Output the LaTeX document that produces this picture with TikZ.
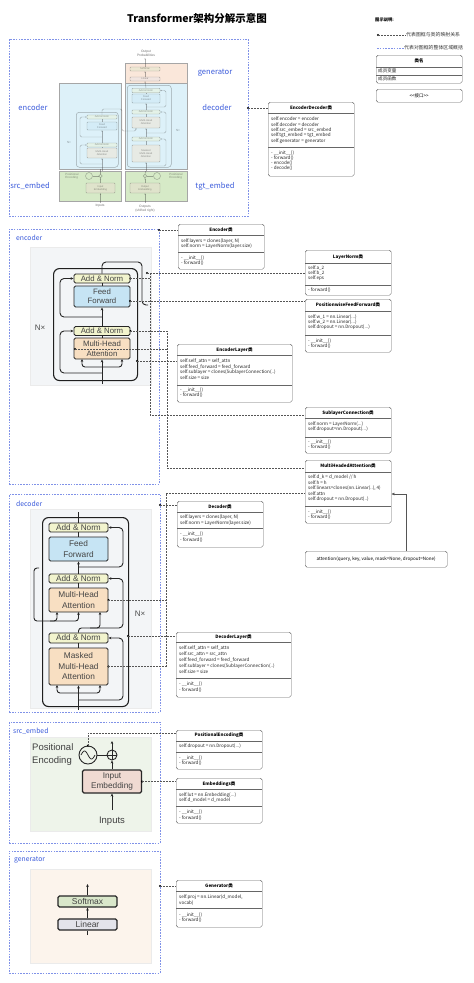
\documentclass[tikz,border=0pt]{standalone}
\usepackage{fontspec}
\setmainfont{Noto Sans CJK SC}
\newfontfamily\dfont{Liberation Sans}
\usetikzlibrary{arrows.meta}
\definecolor{bdash}{HTML}{8092E8}
\definecolor{blab}{HTML}{3B5BDB}
\definecolor{gline}{HTML}{555555}
\definecolor{anc}{HTML}{F2F4CE}
\definecolor{ffc}{HTML}{C6E4F4}
\definecolor{mhc}{HTML}{F8DFC2}
\definecolor{pangray}{HTML}{F3F5F7}
\definecolor{pangreen}{HTML}{EEF4EA}
\definecolor{panpeach}{HTML}{FCF4EC}
\definecolor{iec}{HTML}{F0DAD2}
\definecolor{smc}{HTML}{D9E7CA}
\definecolor{lnc}{HTML}{E3E3EA}
\definecolor{tblue}{HTML}{DDF1F9}
\definecolor{tpeach}{HTML}{FAE7DA}
\definecolor{tgreen}{HTML}{D6EAC7}
\definecolor{dtext}{HTML}{444444}
\newcount\tcnt
\newcommand\cl[3]{\global\advance\tcnt by 1\relax\node[clt] (t\the\tcnt) at (#1,#2) {#3};}
\newcommand\clsbox[9]{%
  \node[cls, anchor=north west, minimum width={#4-#2}, minimum height={#5-#3}] (#1) at (#2,#3) {};
  \node[clh] (#1-h) at ({(#2+#4)/2},#6) {#9};
  \draw[clsep] (#2,#7) -- (#4,#7);
  \draw[clsep] (#2,#8) -- (#4,#8);
}
\begin{document}
\begin{tikzpicture}[x=1pt,y=-1pt,
  cls/.style={draw=gline!90, line width=0.45pt, rounded corners=1.8pt, fill=white, inner sep=0pt},
  clt/.style={anchor=west, inner sep=0pt, font=\fontsize{4.55}{5}\selectfont, text=black!85},
  clh/.style={inner sep=0pt, font=\fontsize{4.5}{5}\selectfont\bfseries, text=black},
  clsep/.style={draw=gline!90, line width=0.45pt},
  mapl/.style={draw=gline, line width=0.5pt, dash pattern=on 1.8pt off 1.2pt},
  bbox/.style={draw=bdash, line width=0.55pt, dash pattern=on 1.6pt off 1.2pt, inner sep=0pt},
  seclab/.style={anchor=west, inner sep=0pt, text=blab, font=\fontsize{6.8}{8}\selectfont},
  toplab/.style={inner sep=0pt, text=blab, font=\fontsize{7.6}{9}\selectfont},
  panel/.style={draw=black!8, line width=0.3pt, inner sep=0pt, anchor=north west},
  blk/.style={draw=black!85, line width=0.9pt, rounded corners=1.5pt, inner sep=0pt, font=\dfont\fontsize{7.8}{9}\selectfont, text=dtext, align=center},
  orr/.style={draw=black!88, line width=1.1pt, rounded corners=6pt, inner sep=0pt, anchor=north west},
  wire/.style={draw=black!85, line width=0.9pt},
  arr/.style={wire, -{Stealth[length=3pt,width=2.6pt]}},
  tpan/.style={draw=black!35, line width=0.5pt, inner sep=0pt, anchor=north west}
]
\useasboundingbox[fill=white] (0,0) rectangle (474,983);

% ---------------- title & legend
\node[font=\fontsize{10.5}{12}\selectfont\bfseries] (title) at (197,18) {Transformer架构分解示意图};
\node[anchor=west, inner sep=0pt, font=\fontsize{4.3}{5}\selectfont\bfseries] (lgt) at (375,20) {图示说明:};
\coordinate (lg1a) at (378,35); \coordinate (lg1b) at (406,35);
\fill (lg1a) circle (1.2pt);
\draw[mapl] (lg1a) -- (lg1b);
\node[anchor=west, inner sep=0pt, font=\fontsize{4.9}{5}\selectfont, text=black!80] (lg1) at (lg1b) {代表图框与类的映射关系};
\coordinate (lg2a) at (377,48); \coordinate (lg2b) at (404,48);
\draw[bbox] (lg2a) -- (lg2b);
\node[anchor=west, inner sep=0pt, font=\fontsize{4.9}{5}\selectfont, text=black!80] (lg2) at (lg2b) {代表对图框的整体区域概括};
\node[cls, anchor=north west, minimum width=86, minimum height=28] (lgc) at (376,55) {};
\node[clh] (lgch) at (419,61) {类名};
\draw[clsep] (376,67) -- (462,67);
\draw[clsep] (376,75) -- (462,75);
\cl{378}{71}{成员变量}
\cl{378}{79}{成员函数}
\node[cls, anchor=north west, minimum width=86, minimum height=13, font=\fontsize{4.5}{5}\selectfont] (lgi) at (376,89) {<{}<接口>{}>};

% ---------------- class boxes
\clsbox{cED}{268}{102}{354}{176}{108}{113}{147}{EncoderDecoder类}
\cl{271}{119}{self.encoder = encoder}
\cl{271}{124.5}{self.decoder = decoder}
\cl{271}{130}{self.src\_embed = src\_embed}
\cl{271}{135.5}{self.tgt\_embed = tgt\_embed}
\cl{271}{141}{self.generator = generator}
\cl{271}{153}{- \_\_init\_\_()}
\cl{271}{158}{- forward()}
\cl{271}{163}{- encode()}
\cl{271}{168}{- decode()}

\clsbox{cEnc}{178}{224}{264}{269}{230}{235}{252}{Encoder类}
\cl{181}{241}{self.layers = clones(layer, N)}
\cl{181}{246}{self.norm = LayerNorm(layer.size)}
\cl{181}{258}{- \_\_init\_\_()}
\cl{181}{263}{- forward()}

\clsbox{cLN}{305}{250}{391}{295}{257}{263}{285}{LayerNorm类}
\cl{308}{268}{self.a\_2}
\cl{308}{273}{self.b\_2}
\cl{308}{278}{self.eps}
\cl{308}{290}{- forward()}

\clsbox{cPFF}{305}{299}{391}{352}{305}{311}{335}{PositionwiseFeedForward类}
\cl{308}{317}{self.w\_1 = nn.Linear(...)}
\cl{308}{322}{self.w\_2 = nn.Linear(...)}
\cl{308}{327}{self.dropout = nn.Dropout(...)}
\cl{308}{341}{- \_\_init\_\_()}
\cl{308}{346}{- forward()}

\clsbox{cEL}{177}{344}{292}{402}{350}{355}{385}{EncoderLayer类}
\cl{180}{361}{self.self\_attn = self\_attn}
\cl{180}{366.5}{self.feed\_forward = feed\_forward}
\cl{180}{372}{self.sublayer = clones(SublayerConnection(..)}
\cl{180}{378}{self.size = size}
\cl{180}{390}{- \_\_init\_\_()}
\cl{180}{395}{- forward()}

\clsbox{cSC}{305}{407}{391}{453}{413}{418}{437}{SublayerConnection类}
\cl{308}{424}{self.norm = LayerNorm(...)}
\cl{308}{429}{self.dropout=nn.Dropout(...)}
\cl{308}{442}{- \_\_init\_\_()}
\cl{308}{447}{- forward()}

\clsbox{cMHA}{305}{460}{391}{523}{466}{472}{506}{MultiHeadedAttention类}
\cl{308}{477}{self.d\_k = d\_model // h}
\cl{308}{482.5}{self.h = h}
\cl{308}{488}{self.linears=clones(nn.Linear(..), 4)}
\cl{308}{493.5}{self.attn}
\cl{308}{499}{self.dropout = nn.Dropout(..)}
\cl{308}{512}{- \_\_init\_\_()}
\cl{308}{517.5}{- forward()}

\node[cls, anchor=north west, minimum width=142, minimum height=16, font=\fontsize{4.55}{5}\selectfont] (cAtt) at (305,551) {attention(query, key, value, mask=None, dropout=None)};
\coordinate (a1) at (406,494);
\draw[draw=gline, line width=0.55pt, -{Triangle[length=3pt,width=2.6pt]}] (cAtt.north -| a1) -- (a1) -- (cMHA.east |- a1);

\clsbox{cDec}{177}{501}{263}{547}{507}{512}{528}{Decoder类}
\cl{180}{517.5}{self.layers = clones(layer, N)}
\cl{180}{523}{self.norm = LayerNorm(layer.size)}
\cl{180}{534}{- \_\_init\_\_()}
\cl{180}{540}{- forward()}

\clsbox{cDL}{176}{632}{291}{697}{637}{642}{678}{DecoderLayer类}
\cl{179}{648}{self.self\_attn = self\_attn}
\cl{179}{654}{self.src\_attn = src\_attn}
\cl{179}{660}{self.feed\_forward = feed\_forward}
\cl{179}{666}{self.sublayer = clones(SublayerConnection(..)}
\cl{179}{672}{self.size = size}
\cl{179}{684}{- \_\_init\_\_()}
\cl{179}{690}{- forward()}

\clsbox{cPE}{176}{730}{262}{769}{735.5}{741}{752}{PositionalEncoding类}
\cl{179}{746.5}{self.dropout = nn.Dropout(...)}
\cl{179}{758}{- \_\_init\_\_()}
\cl{179}{763}{- forward()}

\clsbox{cEmb}{176}{778}{262}{823}{784}{789}{806}{Embeddings类}
\cl{179}{795}{self.lut = nn.Embedding(...)}
\cl{179}{800}{self.d\_model = d\_model}
\cl{179}{812}{- \_\_init\_\_()}
\cl{179}{818}{- forward()}

\clsbox{cGen}{176}{880}{262}{927}{886}{891}{908}{Generator类}
\cl{179}{897}{self.proj = nn.Linear(d\_model,}
\cl{179}{903}{vocab)}
\cl{179}{915}{- \_\_init\_\_()}
\cl{179}{920}{- forward()}

% ---------------- top overview
\node[bbox, anchor=north west, minimum width=239, minimum height=177] (topbox) at (9,39) {};
\node[toplab] (tl1) at (33,108) {encoder};
\node[toplab] (tl2) at (217,108) {decoder};
\node[toplab] (tl3) at (215,73) {generator};
\node[toplab] (tl4) at (30,186) {src\_embed};
\node[toplab] (tl5) at (215,186) {tgt\_embed};
\node[tpan, fill=tpeach, minimum width=62, minimum height=20] (tgen) at (125,63) {};
\node[tpan, fill=tblue, minimum width=62, minimum height=86] (tenc) at (59,83) {};
\node[tpan, fill=tblue, minimum width=62, minimum height=86] (tdec) at (125,83) {};
\node[tpan, fill=tgreen, minimum width=62, minimum height=30] (tsrc) at (59,171) {};
\node[tpan, fill=tgreen, minimum width=62, minimum height=30] (ttgt) at (125,171) {};
\node[align=center, font=\dfont\fontsize{3.3}{3.8}\selectfont, text=black!55, inner sep=0pt] (tout) at (146,53) {Output\\Probabilities};
\node[font=\dfont\fontsize{3.3}{3.8}\selectfont, text=black!55, inner sep=0pt] (tinp) at (100,206) {Inputs};
\node[align=center, font=\dfont\fontsize{3.3}{3.8}\selectfont, text=black!55, inner sep=0pt] (toutp) at (145,209) {Outputs\\(shifted right)};
\begin{scope}[opacity=0.38,
  tb/.style={draw=black!80, line width=0.45pt, rounded corners=0.8pt, inner sep=0pt, font=\dfont\fontsize{2.6}{3}\selectfont, align=center},
  tw/.style={draw=black!80, line width=0.45pt},
  ta/.style={tw, -{Stealth[length=1.4pt,width=1.2pt]}}]
  % encoder
  \node[draw=black!80, line width=0.5pt, rounded corners=3pt, minimum width=42, minimum height=55, inner sep=0pt, anchor=north west] (teo) at (76,112) {};
  \node[tb, fill=anc, minimum width=30, minimum height=4] (tea2) at (102,117) {Add \& Norm};
  \node[tb, fill=ffc, minimum width=30, minimum height=8] (tef) at (102,126) {Feed\\Forward};
  \node[tb, fill=anc, minimum width=30, minimum height=4] (tea1) at (102,145) {Add \& Norm};
  \node[tb, fill=mhc, minimum width=30, minimum height=10] (tem) at (102,153) {Multi-Head\\Attention};
  \coordinate (tein) at (102,171);
  \draw[ta] (tein) -- (tem.south);
  \draw[tw] (tem.north) -- (tea1.south);
  \draw[ta] (tea1.north) -- (tef.south);
  \draw[tw] (tef.north) -- (tea2.south);
  \draw[ta, rounded corners=1.5pt] (102,164) -- (80,164) -- (80,145) -- (tea1.west);
  \draw[ta, rounded corners=1.5pt] (102,137) -- (80,137) -- (80,117) -- (tea2.west);
  \node[font=\dfont\fontsize{3}{3}\selectfont, inner sep=0pt] (tnx1) at (69,142) {N×};
  % decoder
  \node[draw=black!80, line width=0.5pt, rounded corners=3pt, minimum width=44, minimum height=82, inner sep=0pt, anchor=north west] (tdo) at (127,85) {};
  \node[tb, fill=anc, minimum width=28, minimum height=4.5] (tda3) at (146,90.5) {Add \& Norm};
  \node[tb, fill=ffc, minimum width=28, minimum height=9] (tdf) at (146,98.5) {Feed\\Forward};
  \node[tb, fill=anc, minimum width=28, minimum height=4] (tda2) at (146,112) {Add \& Norm};
  \node[tb, fill=mhc, minimum width=28, minimum height=11] (tdm) at (146,122.5) {Multi-Head\\Attention};
  \node[tb, fill=anc, minimum width=28, minimum height=4] (tda1) at (146,139) {Add \& Norm};
  \node[tb, fill=mhc, minimum width=28, minimum height=17] (tdmm) at (146,153.5) {Masked\\Multi-Head\\Attention};
  \coordinate (tdin) at (146,171);
  \draw[ta] (tdin) -- (tdmm.south);
  \draw[tw] (tdmm.north) -- (tda1.south);
  \draw[ta] (tda1.north) -- (tdm.south);
  \draw[tw] (tdm.north) -- (tda2.south);
  \draw[ta] (tda2.north) -- (tdf.south);
  \draw[tw] (tdf.north) -- (tda3.south);
  \draw[ta, rounded corners=1.5pt] (146,166) -- (166,166) -- (166,139) -- (tda1.east);
  \draw[ta, rounded corners=1.5pt] (146,133) -- (166,133) -- (166,112) -- (tda2.east);
  \draw[ta, rounded corners=1.5pt] (146,107) -- (166,107) -- (166,90.5) -- (tda3.east);
  \draw[ta, rounded corners=1.5pt] (tea2.north) -- (102,109) -- (122,109) -- (122,131) -- (136,131) -- (136,128);
  \node[font=\dfont\fontsize{3}{3}\selectfont, inner sep=0pt] (tnx2) at (178,130) {N×};
  % generator
  \node[tb, fill=smc, minimum width=30, minimum height=4] (tgs) at (145,69) {Softmax};
  \node[tb, fill=lnc, minimum width=30, minimum height=4] (tgl) at (145,79) {Linear};
  \draw[ta] (tda3.north) -- (tgl.south);
  \draw[ta] (tgl.north) -- (tgs.south);
  \coordinate (tgo) at (145,58);
  \draw[ta] (tgs.north) -- (tgo);
  % embeddings
  \node[tb, fill=iec, minimum width=29, minimum height=10] (tie) at (100.5,188) {Input\\Embedding};
  \node[circle, draw=black!80, line width=0.45pt, minimum size=7, inner sep=0pt] (tsin1) at (89,176) {};
  \node[circle, draw=black!80, line width=0.45pt, minimum size=3.5, inner sep=0pt] (tpl1) at (100.5,176) {};
  \draw[tw] (tsin1.east) -- (tpl1.west);
  \draw[ta] (tie.north) -- (tpl1.south);
  \draw[ta] (tpl1.north) -- (100.5,169);
  \draw[ta] (100.5,203) -- (tie.south);
  \node[align=left, font=\dfont\fontsize{3}{3.5}\selectfont, inner sep=0pt] (tpe1) at (72,176) {Positional\\Encoding};
  \node[tb, fill=iec, minimum width=30, minimum height=10] (toe) at (145,188) {Output\\Embedding};
  \node[circle, draw=black!80, line width=0.45pt, minimum size=7, inner sep=0pt] (tsin2) at (157,176) {};
  \node[circle, draw=black!80, line width=0.45pt, minimum size=3.5, inner sep=0pt] (tpl2) at (145,176) {};
  \draw[tw] (tsin2.west) -- (tpl2.east);
  \draw[ta] (toe.north) -- (tpl2.south);
  \draw[ta] (tpl2.north) -- (tdin);
  \draw[ta] (145,203) -- (toe.south);
  \node[align=left, font=\dfont\fontsize{3}{3.5}\selectfont, inner sep=0pt] (tpe2) at (176,176) {Positional\\Encoding};
\end{scope}
\coordinate (m1) at (248,108);
\fill (m1) circle (1.2pt);
\draw[mapl] (m1) -- (cED.west |- m1);

% ---------------- encoder section
\node[bbox, anchor=north west, minimum width=150, minimum height=255] (encsec) at (9,229) {};
\node[seclab] (encl) at (16,238) {encoder};
\node[panel, fill=pangray, minimum width=121, minimum height=138] (encpan) at (30,247) {};
\node[orr, minimum width=84, minimum height=112] (eout) at (53,268) {};
\node[blk, fill=anc, minimum width=56, minimum height=9] (eAN2) at (102,278.5) {Add \& Norm};
\node[blk, fill=ffc, minimum width=56, minimum height=21, font=\dfont\fontsize{7.8}{9.4}\selectfont] (eFF) at (102,296.5) {Feed\\Forward};
\node[blk, fill=anc, minimum width=56, minimum height=9] (eAN1) at (102,331) {Add \& Norm};
\node[blk, fill=mhc, minimum width=56, minimum height=21, font=\dfont\fontsize{7.8}{10.5}\selectfont] (eMHA) at (102,348.5) {Multi-Head\\Attention};
\node[font=\dfont\fontsize{8}{9}\selectfont, text=black!70, inner sep=0pt] (eNx) at (40,328) {N×};
\coordinate (ein) at (102,384);
\draw[wire] (ein) -- (102,367);
\draw[arr] (102,367) -- (eMHA.south);
\draw[arr, rounded corners=3pt] (102,367) -- (82,367) -- (82,359);
\draw[arr, rounded corners=3pt] (102,367) -- (122,367) -- (122,359);
\draw[arr, rounded corners=4pt] (102,373) -- (60,373) -- (60,331) -- (eAN1.west);
\draw[wire] (eMHA.north) -- (eAN1.south);
\draw[arr] (eAN1.north) -- (eFF.south);
\draw[arr, rounded corners=4pt] (102,317) -- (60,317) -- (60,278.5) -- (eAN2.west);
\draw[wire] (eFF.north) -- (eAN2.south);
\draw[wire, rounded corners=4pt] (eAN2.north) -- (102,262) -- (142,262) -- (142,305) -- (148,305);

\coordinate (m2) at (159,230);
\fill (m2) circle (1.2pt);
\draw[mapl] (m2) -- (cEnc.west |- m2);
\coordinate (m3) at (147,273);
\fill (m3) circle (1.2pt);
\draw[mapl] (m3) -- (cLN.west |- m3);
\coordinate (m4a) at (150,273); \coordinate (m4c) at (150,278.5); \coordinate (m4b) at (150,415);
\fill (eAN2.east) circle (1.1pt);
\draw[mapl] (eAN2.east) -- (m4c);
\draw[mapl] (m4a) -- (m4b) -- (cSC.west |- m4b);
\coordinate (m5a) at (167,331); \coordinate (m5b) at (167,468);
\fill (eAN1.east) circle (1.1pt);
\draw[mapl] (eAN1.east) -- (m5a) -- (m5b) -- (cMHA.west |- m5b);
\coordinate (m6) at (75,349); \coordinate (m6a) at (167,349);
\fill (m6) circle (1.1pt);
\draw[mapl] (m6) -- (m6a);
\coordinate (m7) at (130,301);
\fill (m7) circle (1.1pt);
\draw[mapl] (m7) -- (cPFF.west |- m7);
\coordinate (m8) at (137,361);
\fill (m8) circle (1.1pt);
\draw[mapl] (m8) -- (cEL.west |- m8);

% ---------------- decoder section
\node[bbox, anchor=north west, minimum width=151, minimum height=218] (decsec) at (9,494) {};
\node[seclab] (decl) at (16,504) {decoder};
\node[panel, fill=pangray, minimum width=121, minimum height=199] (decpan) at (30,509) {};
\node[orr, minimum width=86, minimum height=189] (dout) at (42,517) {};
\node[blk, fill=anc, minimum width=59, minimum height=9, font=\dfont\fontsize{8.2}{9}\selectfont] (dAN3) at (78.5,527.5) {Add \& Norm};
\node[blk, fill=ffc, minimum width=59, minimum height=24, font=\dfont\fontsize{8.3}{10.5}\selectfont] (dFF) at (78.5,549) {Feed\\Forward};
\node[blk, fill=anc, minimum width=59, minimum height=9, font=\dfont\fontsize{8.2}{9}\selectfont] (dAN2) at (78.5,578.5) {Add \& Norm};
\node[blk, fill=mhc, minimum width=59, minimum height=24, font=\dfont\fontsize{8.3}{10.5}\selectfont] (dMHA) at (78.5,600) {Multi-Head\\Attention};
\node[blk, fill=anc, minimum width=59, minimum height=10, font=\dfont\fontsize{8.2}{9}\selectfont] (dAN1) at (78.5,638) {Add \& Norm};
\node[blk, fill=mhc, minimum width=59, minimum height=37, font=\dfont\fontsize{8.3}{10.5}\selectfont] (dMMHA) at (78.5,666.5) {Masked\\Multi-Head\\Attention};
\node[font=\dfont\fontsize{8}{9}\selectfont, text=black!70, inner sep=0pt] (dNx) at (140,614) {N×};
\coordinate (din) at (78.5,710);
\draw[wire] (din) -- (78.5,693);
\draw[arr] (78.5,693) -- (dMMHA.south);
\draw[arr, rounded corners=3pt] (78.5,693) -- (57,693) -- (57,685);
\draw[arr, rounded corners=3pt] (78.5,693) -- (100,693) -- (100,685);
\draw[arr, rounded corners=4pt] (78.5,700) -- (123,700) -- (123,638) -- (dAN1.east);
\draw[wire] (dMMHA.north) -- (dAN1.south);
\draw[arr, rounded corners=3pt] (dAN1.north) -- (78.5,628) -- (100,628) -- (100,612);
\draw[arr, rounded corners=4pt] (90,628) -- (123,628) -- (123,578.5) -- (dAN2.east);
\draw[arr, rounded corners=3pt] (39,568) -- (34,568) -- (34,621) -- (57,621) -- (57,612);
\draw[arr, rounded corners=3pt] (50,621) -- (78.5,621) -- (78.5,612);
\draw[wire] (dMHA.north) -- (dAN2.south);
\draw[arr] (dAN2.north) -- (dFF.south);
\draw[arr, rounded corners=4pt] (78.5,567) -- (123,567) -- (123,527.5) -- (dAN3.east);
\draw[wire] (dFF.north) -- (dAN3.south);
\coordinate (dtop) at (78.5,512);
\draw[wire] (dAN3.north) -- (dtop);

\coordinate (m9) at (160,505);
\fill (m9) circle (1.2pt);
\draw[mapl] (m9) -- (cDec.west |- m9);
\coordinate (m10a) at (166,600); \coordinate (m10b) at (166,493); \coordinate (m11a) at (166,666.5);
\fill (dMHA.east) circle (1.1pt);
\fill (dMMHA.east) circle (1.1pt);
\draw[mapl] (dMHA.east) -- (m10a) -- (m10b) -- (cMHA.west |- m10b);
\draw[mapl] (dMMHA.east) -- (m11a) -- (m10a);
\coordinate (m12) at (128,636);
\fill (m12) circle (1.1pt);
\draw[mapl] (m12) -- (cDL.west |- m12);

% ---------------- src_embed section
\node[bbox, anchor=north west, minimum width=151, minimum height=121] (srcsec) at (9,722) {};
\node[seclab] (srcl) at (13,731) {src\_embed};
\node[panel, fill=pangreen, minimum width=121, minimum height=94] (srcpan) at (30,737) {};
\node[anchor=west, inner sep=0pt, align=left, font=\dfont\fontsize{9.5}{13}\selectfont, text=black!75] (pe) at (32,755) {Positional\\Encoding};
\node[circle, draw=black!85, line width=0.9pt, minimum size=18, inner sep=0pt] (sine) at (88,755) {};
\draw[line width=0.8pt, black!85] plot[domain=-7:7, samples=40, variable=\t] ({88+\t},{755+4*sin(\t*180/7)});
\node[circle, draw=black!85, line width=0.9pt, minimum size=10, inner sep=0pt] (plus) at (112,755) {};
\draw[line width=0.8pt, black!85] (plus.west) -- (plus.east);
\draw[line width=0.8pt, black!85] (plus.north) -- (plus.south);
\draw[wire] (sine.east) -- (plus.west);
\node[blk, fill=iec, minimum width=59, minimum height=23, line width=1.1pt, font=\dfont\fontsize{8.3}{10}\selectfont] (ie) at (112,781.5) {Input\\Embedding};
\draw[arr] (ie.north) -- (plus.south);
\coordinate (pout) at (112,741);
\draw[arr] (plus.north) -- (pout);
\coordinate (iin) at (112,810);
\draw[arr] (iin) -- (ie.south);
\node[font=\dfont\fontsize{9.5}{11}\selectfont, text=black!75, inner sep=0pt] (inp) at (112,821) {Inputs};
\coordinate (m13a) at (88,733);
\fill (sine.north) circle (1.2pt);
\draw[mapl] (sine.north) -- (m13a) -- (cPE.west |- m13a);
\fill (ie.east) circle (1.2pt);
\draw[mapl] (ie.east) -- (cEmb.west |- ie.east);

% ---------------- generator section
\node[bbox, anchor=north west, minimum width=151, minimum height=122] (gensec) at (9,851) {};
\node[seclab] (genl) at (14,860) {generator};
\node[panel, fill=panpeach, minimum width=121, minimum height=94] (genpan) at (30,869) {};
\node[blk, fill=smc, minimum width=59, minimum height=11, line width=1.1pt, font=\dfont\fontsize{8.5}{10}\selectfont] (sm) at (87.5,901.5) {Softmax};
\node[blk, fill=lnc, minimum width=59, minimum height=11, line width=1.1pt, font=\dfont\fontsize{8.5}{10}\selectfont] (lin) at (87.5,924.5) {Linear};
\coordinate (gin) at (87.5,935);
\draw[wire] (gin) -- (lin.south);
\draw[arr] (lin.north) -- (sm.south);
\coordinate (gout) at (87.5,884);
\draw[arr] (sm.north) -- (gout);
\coordinate (m15) at (160,886);
\fill (m15) circle (1.2pt);
\draw[mapl] (m15) -- (cGen.west |- m15);
\end{tikzpicture}
\end{document}
